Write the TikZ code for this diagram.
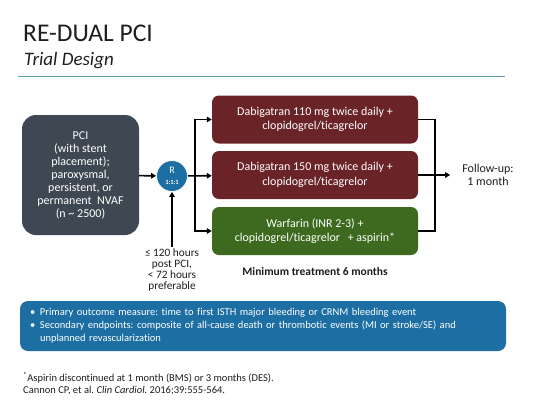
\documentclass[tikz,border=0pt]{standalone}
\usepackage{fontspec}
\setmainfont{Carlito}[Ligatures={NoCommon}]
\usetikzlibrary{arrows.meta}
\definecolor{slatebox}{HTML}{3E4852}
\definecolor{redbox}{HTML}{6A2327}
\definecolor{greenbox}{HTML}{3D6A1F}
\definecolor{bluebox}{HTML}{1D6FA3}
\definecolor{rulecol}{HTML}{5E9EAA}
\definecolor{inkcol}{HTML}{1E1E1E}
\frenchspacing
\begin{document}
\begin{tikzpicture}[x=1pt,y=-1pt,
  conn/.style={line width=1.6pt, draw=black},
  arr/.style={conn, -{Triangle[length=5pt,width=5.5pt]}},
  armbox/.style={rounded corners=7pt, minimum width=206pt, minimum height=48pt,
    text=white, align=center, font=\fontsize{12}{14.5}\selectfont, inner sep=0pt},
  plain/.style={text=inkcol, inner sep=0pt}
]
\useasboundingbox (0,0) rectangle (540,405);
\fill[white] (0,0) rectangle (540,405);

% title
\node[plain, anchor=base west, font=\fontsize{25.5}{30}\selectfont] (title) at (23,41) {RE-DUAL PCI};
\node[plain, anchor=base west, font=\fontsize{19}{22}\selectfont\itshape] (sub) at (24,65) {Trial Design};
\coordinate (ruleL) at (18,76);
\coordinate (ruleR) at (505,76);
\draw[rulecol, line width=1pt] (ruleL) -- (ruleR);

% population
\node[fill=slatebox, rounded corners=14pt, minimum width=117pt, minimum height=120pt,
  text=white, align=center, inner sep=0pt, font=\fontsize{12}{13}\selectfont] (pci) at (80.5,175)
  {PCI\\(with stent\\placement);\\paroxysmal,\\persistent, or\\permanent\ \ NVAF\\(n \textasciitilde{} 2500)};

% randomisation
\node[circle, fill=bluebox, draw=white, line width=0.8pt, minimum size=31pt, inner sep=0pt,
  text=white, align=center, font=\fontsize{10}{11.5}\selectfont] (R) at (172,176)
  {R\\{\fontsize{6.5}{7}\selectfont\bfseries 1:1:1}};

% arms
\node[armbox, fill=redbox] (b1) at (315,119.5) {Dabigatran 110 mg twice daily +\\clopidogrel/ticagrelor};
\node[armbox, fill=redbox] (b2) at (315,175) {Dabigatran 150 mg twice daily +\\clopidogrel/ticagrelor};
\node[armbox, fill=greenbox] (b3) at (315,231) {Warfarin (INR 2-3) +\\clopidogrel/ticagrelor\hspace{5pt} + aspirin*};

\node[plain, align=center, inner xsep=12pt, font=\fontsize{12}{12.5}\selectfont] (fu) at (488,175) {Follow-up:\\1 month};
\node[plain, font=\fontsize{11.5}{14}\selectfont\bfseries] (mt) at (315,271) {Minimum treatment 6 months};

\node[plain, anchor=north, inner ysep=1pt, align=center, font=\fontsize{11.3}{11}\selectfont] (tw) at (172,247)
  {≤ 120 hours\\post PCI,\\< 72 hours\\preferable};

% connectors
\coordinate (split) at (195,175);
\coordinate (join) at (435,175);
\draw[arr] (pci) -- (R);
\draw[arr] (tw.north) -- (R.south);
\draw[arr] (R) -- (b2);
\draw[arr] (split) |- (b1);
\draw[arr] (split) |- (b3);
\draw[conn] (b1.east) -| (join);
\draw[conn] (b3.east) -| (join);
\draw[arr] (b2.east) -- (fu.west);

% outcomes
\node[fill=bluebox, rounded corners=8pt, minimum height=50pt, text width=466pt, inner xsep=10pt,
  align=left, text=white, font=\fontsize{10.5}{13}\selectfont] (out) at (263,326)
  {\noindent\begin{tabular}{@{}p{10pt}@{}l@{}}
  \textbullet & Primary outcome measure: time to first ISTH major bleeding or CRNM bleeding event\\
  \textbullet & Secondary endpoints: composite of all-cause death or thrombotic events (MI or stroke/SE) and\\
   & unplanned revascularization
  \end{tabular}};

% footnotes
\node[plain, anchor=base west, font=\fontsize{10.5}{11}\selectfont] (fn1) at (23,381)
  {\textsuperscript{*}Aspirin discontinued at 1 month (BMS) or 3 months (DES).};
\node[plain, anchor=base west, font=\fontsize{10.5}{11}\selectfont] (fn2) at (23,393)
  {Cannon CP, et al. \textit{Clin Cardiol.} 2016;39:555-564.};
\end{tikzpicture}
\end{document}
